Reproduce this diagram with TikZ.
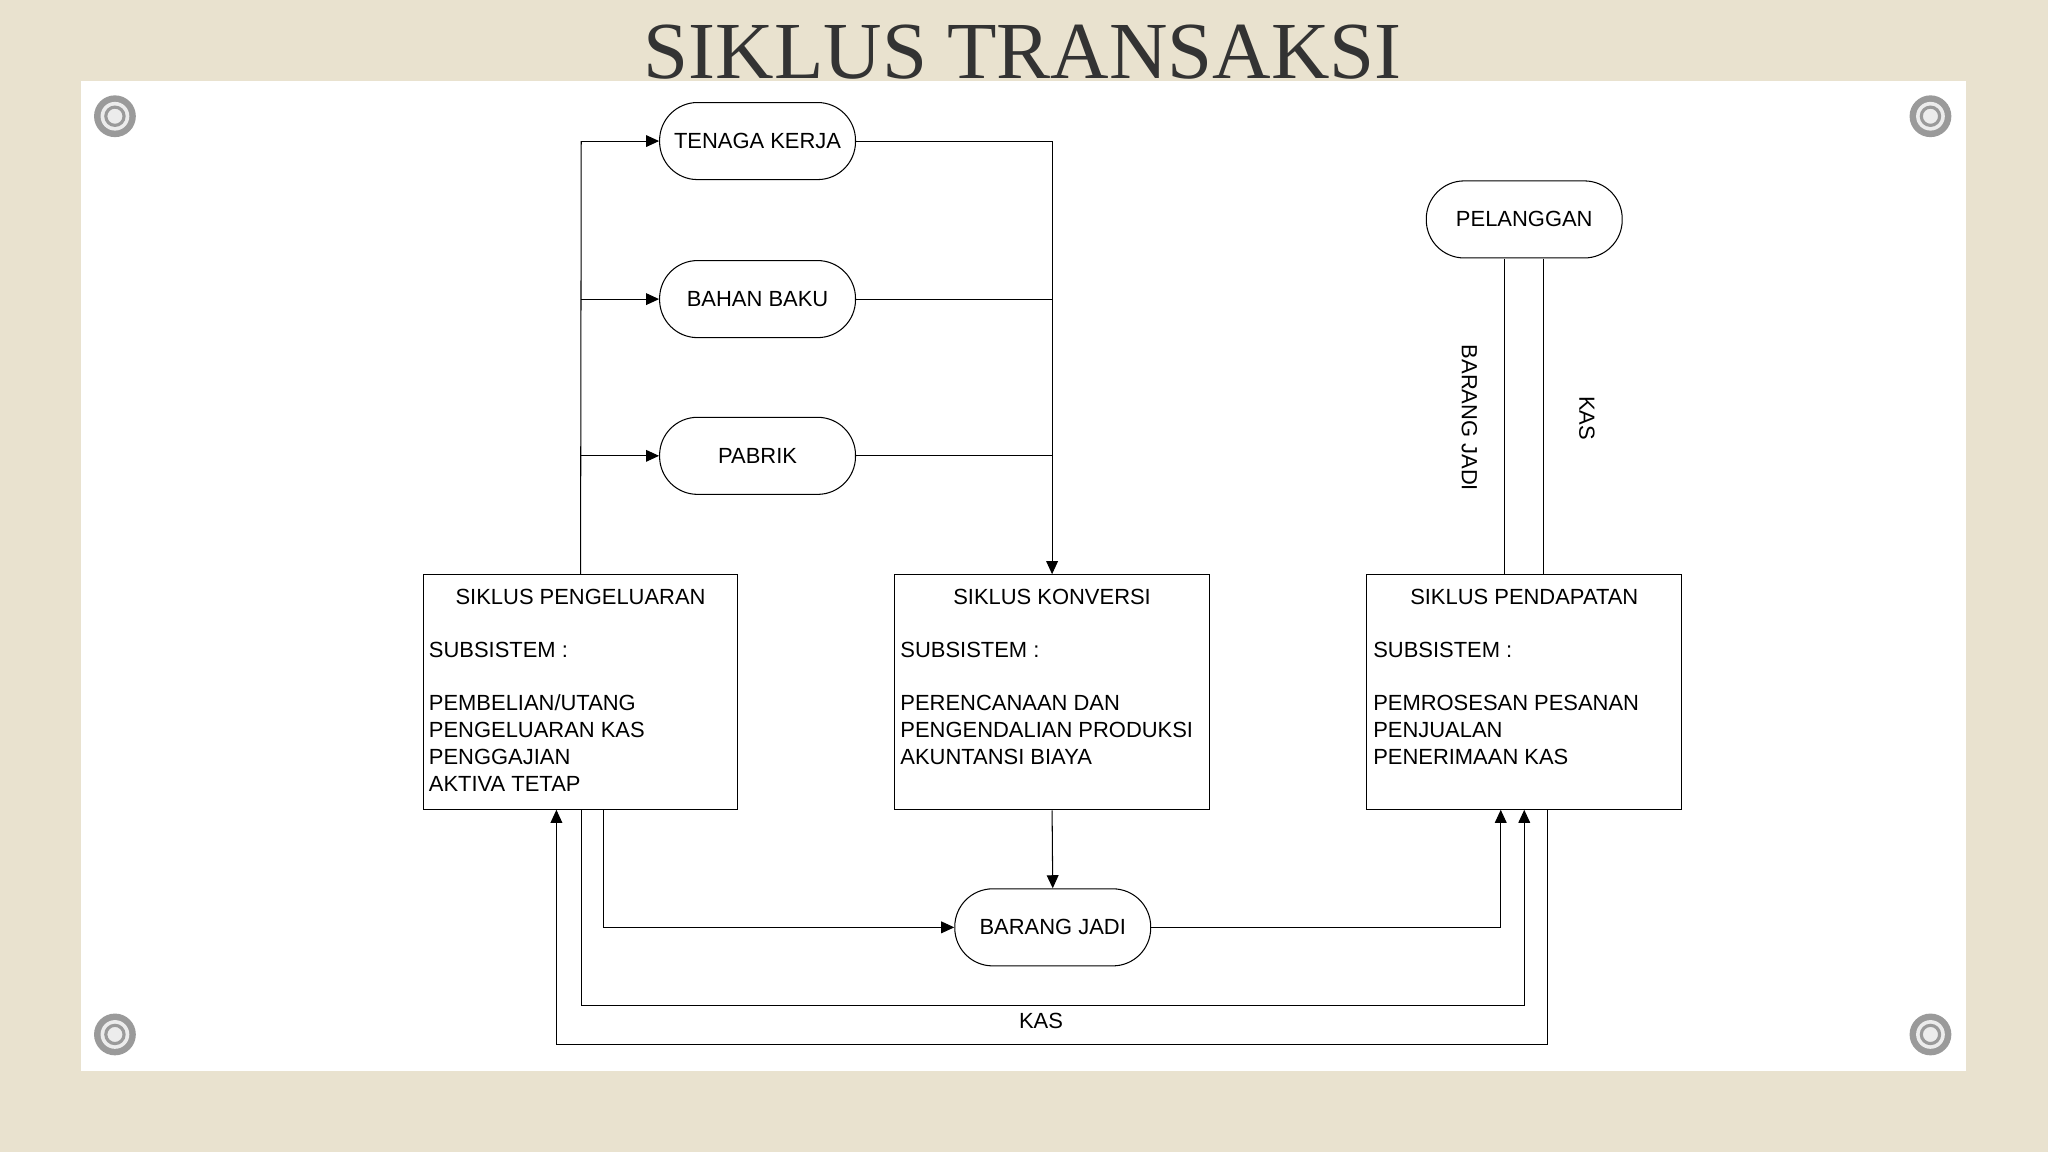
\documentclass[tikz,border=0pt]{standalone}
\usepackage{fontspec}
\setmainfont{Liberation Sans}
\newfontfamily\titlefont{Liberation Serif}
\usetikzlibrary{arrows.meta}
\definecolor{canvas}{HTML}{E9E2CF}
\definecolor{screw}{HTML}{9A9A9A}
\begin{document}
\begin{tikzpicture}[x=0.5pt,y=-0.5pt,
  term/.style={draw,line width=0.4pt,rounded corners=14.5pt,minimum width=75pt,minimum height=29.5pt,font=\fontsize{8.4}{10}\selectfont,inner sep=0pt},
  sysbox/.style={draw,line width=0.4pt,minimum width=120.5pt,minimum height=90pt,inner sep=0pt},
  txt/.style={font=\fontsize{8.4}{10.25}\selectfont,inner sep=0pt},
  ln/.style={line width=0.4pt},
  arr/.style={ln,-{Triangle[length=5pt,width=4.5pt]}}]
\fill[canvas] (0,0) rectangle (1568,882);
\fill[white] (62,62) rectangle (1505,820);
\foreach \p in {(88,89),(1478,89),(88,792),(1478,792)}{
  \fill[screw] \p circle (8pt); \fill[white!85!gray] \p circle (5.5pt); \draw[screw,line width=1.2pt] \p circle (3.5pt);}
\node[font=\titlefont\fontsize{31}{31}\selectfont,text=black!80] (title) at (783,40) {SIKLUS TRANSAKSI};
\node[term] (tk) at (580,108) {TENAGA KERJA};
\node[term] (bb) at (580,229) {BAHAN BAKU};
\node[term] (pb) at (580,349) {PABRIK};
\node[term] (pl) at (1167,168) {PELANGGAN};
\node[term] (bj) at (806,710) {BARANG JADI};
\node[sysbox] (pg) at (444.5,530) {};
\node[sysbox] (kv) at (805.5,530) {};
\node[sysbox] (pd) at (1167,530) {};
\node[txt] (pgt) at (444.5,457) {SIKLUS PENGELUARAN};
\node[txt,anchor=north west,align=left] (pgb) at (328,491) {SUBSISTEM :\\[10.25pt]PEMBELIAN/UTANG\\PENGELUARAN KAS\\PENGGAJIAN\\AKTIVA TETAP};
\node[txt] (kvt) at (805.5,457) {SIKLUS KONVERSI};
\node[txt,anchor=north west,align=left] (kvb) at (689,491) {SUBSISTEM :\\[10.25pt]PERENCANAAN DAN\\PENGENDALIAN PRODUKSI\\AKUNTANSI BIAYA};
\node[txt] (pdt) at (1167,457) {SIKLUS PENDAPATAN};
\node[txt,anchor=north west,align=left] (pdb) at (1051,491) {SUBSISTEM :\\[10.25pt]PEMROSESAN PESANAN\\PENJUALAN\\PENERIMAAN KAS};
\draw[ln] (pg.north) -- (445,108);
\draw[arr] (445,108) -- (tk.west);
\draw[arr] (445,229) -- (bb.west);
\draw[arr] (445,349) -- (pb.west);
\draw[arr] (tk.east) -| (kv.north);
\draw[ln] (bb.east) -- (806,229);
\draw[ln] (pb.east) -- (806,349);
\draw[arr] (kv.south) -- (bj.north);
\draw[arr] (462,620) |- (bj.west);
\draw[arr] (bj.east) -| (1149,620);
\draw[arr] (445,620) |- (1167,770) -- (1167,620);
\draw[arr] (1185,620) |- (426,800) -- (426,620);
\node[txt] (kas) at (797,782) {KAS};
\draw[ln] (1152,198) -- (1152,440);
\draw[ln] (1182,198) -- (1182,440);
\node[txt,rotate=-90] (lbj) at (1125,320) {BARANG JADI};
\node[txt,rotate=-90] (lkas) at (1215,320) {KAS};
\end{tikzpicture}
\end{document}
